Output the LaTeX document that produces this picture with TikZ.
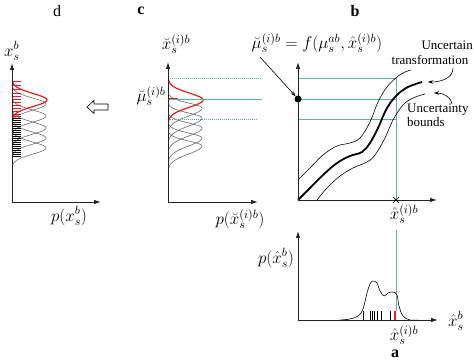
\RequirePackage{fix-cm}
\documentclass[tikz,border=0pt]{standalone}
\usepackage{fontspec}
\setmainfont{Liberation Serif}
\usetikzlibrary{arrows.meta}
\definecolor{grn}{RGB}{95,180,150}
\definecolor{redc}{RGB}{228,30,30}
\definecolor{axc}{RGB}{35,35,35}
\tikzset{
  axisline/.style={draw=axc, line width=0.9pt, -{Latex[length=7pt,width=4.5pt]}},
  gcurve/.style={draw=gray!85!black, line width=0.6pt},
  rcurve/.style={draw=redc, line width=1.2pt},
  lbl/.style={inner sep=0pt, font=\fontsize{13}{15}\selectfont},
  mlbl/.style={inner sep=0pt, font=\fontsize{17}{19}\selectfont},
  ttl/.style={inner sep=0pt, font=\fontsize{16}{18}\selectfont\bfseries},
  ttlr/.style={inner sep=0pt, font=\fontsize{16}{18}\selectfont},
  glinesolid/.style={draw=grn, line width=0.5pt},
  glinedot/.style={draw=grn, line width=0.5pt, dash pattern=on 1pt off 1pt},
  blacktick/.style={draw=black, line width=1pt},
  redtick/.style={draw=redc, line width=1pt},
  thinarrow/.style={draw=black, line width=0.6pt, -{Stealth[length=5pt,width=3.5pt]}},
  tcurve/.style={draw=black, line width=0.6pt},
  Tcurve/.style={draw=black, line width=1.8pt},
}
\newcommand\gausscurve[6]{%
  \pgfmathsetmacro\gca{#4-3*#5}%
  \pgfmathsetmacro\gcb{#4+3*#6}%
  \draw[#1] plot[domain=\gca:#4, samples=30, variable=\t]
      ({#2+#3*exp(-((\t-#4)^2)/(2*#5*#5))},\t)
    -- plot[domain=#4:\gcb, samples=30, variable=\t]
      ({#2+#3*exp(-((\t-#4)^2)/(2*#6*#6))},\t);}
\begin{document}
\begin{tikzpicture}[x=1pt,y=-1pt]
\useasboundingbox (0,0) rectangle (474,363);

% ---------------- titles
\node[ttlr] (td) at (57,11) {d};
\node[ttl] (tc) at (141,11) {c};
\node[ttl] (tb) at (355,11) {b};
\node[ttl] (ta) at (395,354) {a};

% ---------------- panel d
\coordinate (dO) at (12,202);
\coordinate (dY) at (12,63);
\coordinate (dX) at (101,202);
\foreach \c in {104,116,128,138,148} {\gausscurve{gcurve}{12}{34}{\c}{6}{6.2}}
\gausscurve{rcurve}{12}{35}{100}{6.5}{6.5}
\foreach \y in {82,86,90,94,97,100,103,106,109,112,115,117} {\draw[redtick] (12,\y) -- (21,\y);}
\foreach \y in {119,121,123,125,127,129,131,133,135,137,139,141,143,145,147,149,151,153,155,157} {\draw[blacktick] (12,\y) -- (21,\y);}
\draw[axisline] (dO) -- (dY);
\draw[axisline] (dO) -- (dX);
\node[mlbl] (dylab) at (12,51) {$x_s^b$};
\node[mlbl] (dxlab) at (69,216) {$p(x_s^b)$};
% hollow arrow
\draw[line width=0.6pt, fill=white] (87,107) -- (94,100.5) -- (94,104) -- (108,104) -- (108,110) -- (94,110) -- (94,113.5) -- cycle;

% ---------------- panel c
\coordinate (cO) at (168,202);
\coordinate (cY) at (168,62);
\coordinate (cX) at (258,202);
\foreach \c in {108,118,128,138,146} {\gausscurve{gcurve}{168}{34}{\c}{5}{8}}
\gausscurve{rcurve}{168}{35}{100}{7}{7.3}
\draw[redc, line width=2pt] (168,99) -- (178,99);
\draw[glinedot] (168,78) -- (262,78);
\draw[glinesolid] (168,99) -- (262,99);
\draw[glinedot] (168,119) -- (257,119);
\draw[axisline] (cO) -- (cY);
\draw[axisline] (cO) -- (cX);
\node[mlbl] (cylab) at (176,44) {$\breve{x}_s^{(i)b}$};
\node[mlbl] (cmulab) at (151,96) {$\breve{\mu}_s^{(i)b}$};
\node[mlbl] (cxlab) at (240,219) {$p(\breve{x}_s^{(i)b})$};

% ---------------- panel b
\coordinate (bO) at (298,200);
\coordinate (bY) at (298,62);
\coordinate (bX) at (437,200);
\draw[glinesolid] (298,78) -- (396,78);
\draw[glinesolid] (298,99) -- (396,99);
\draw[glinesolid] (298,119) -- (396,119);
\draw[glinesolid] (396,78) -- (396,200);
\draw[tcurve] plot[smooth, tension=0.6] coordinates {(298,180) (310,168) (323,155) (337,146) (350,143) (360,138) (370,122) (378,102) (387,87) (397,77) (405,72) (411,70)};
\draw[Tcurve] plot[smooth, tension=0.6] coordinates {(298,200) (310,188) (323,175) (337,163) (350,156) (362,152) (370,143) (378,128) (387,108) (397,95) (408,87) (422,82)};
\draw[tcurve] plot[smooth, tension=0.6] coordinates {(317,200) (327,188) (340,176) (353,168) (367,162) (375,155) (385,138) (393,120) (403,105) (413,98) (425,94)};
\draw[axisline] (bO) -- (bY);
\draw[axisline] (bO) -- (bX);
\node[circle, fill=black, inner sep=0pt, minimum size=7pt] (bdot) at (298,99) {};
\draw[line width=0.7pt] (393,197) -- (399,203) (393,203) -- (399,197);
\node[mlbl] (bxlab) at (404,214) {$\hat{x}_s^{(i)b}$};
\node[mlbl] (eq) at (317,43) {$\breve{\mu}_s^{(i)b} = f(\mu_s^{ab}, \hat{x}_s^{(i)b})$};
\coordinate (eqfoot) at (260,57);
\draw[thinarrow] (eqfoot) -- (bdot);
\node[lbl, anchor=east] (ut1) at (473,45) {Uncertain};
\node[lbl] (ut2) at (430,60) {transformation};
\node[lbl, anchor=west] (ub1) at (407,110) {Uncertainty};
\node[lbl, anchor=west] (ub2) at (407,122) {bounds};
\coordinate (utfoot) at (453,68);
\coordinate (uttip) at (428,82);
\coordinate (ubfoot) at (452,104);
\coordinate (ubtip) at (434,93);
\draw[thinarrow] (utfoot) to[out=-90, in=0] (uttip);
\draw[thinarrow] (ubfoot) to[out=100, in=0] (ubtip);

% ---------------- panel a
\coordinate (aO) at (298,320);
\coordinate (aY) at (298,231);
\coordinate (aX) at (438,320);
\draw[glinesolid] (396,230) -- (396,311);
\draw[tcurve] plot[smooth, tension=0.6] coordinates {(340,320) (350,319) (358,316) (363,309) (367,293) (370,284) (373,281) (377,283) (380,291) (384,296) (388,293) (393,292) (397,295) (399,306) (403,316) (410,320) (418,320)};
\foreach \x in {363,370,372,374,377,381,390} {\draw[blacktick] (\x,320) -- (\x,311);}
\draw[redc, line width=1.2pt] (395,320) -- (395,311);
\draw[axisline] (aO) -- (aY);
\draw[axisline] (aO) -- (aX);
\node[mlbl] (aylab) at (276,258) {$p(\hat{x}_s^b)$};
\node[mlbl] (axlab) at (456,321) {$\hat{x}_s^b$};
\node[mlbl] (axilab) at (404,335) {$\hat{x}_s^{(i)b}$};
\end{tikzpicture}
\end{document}
